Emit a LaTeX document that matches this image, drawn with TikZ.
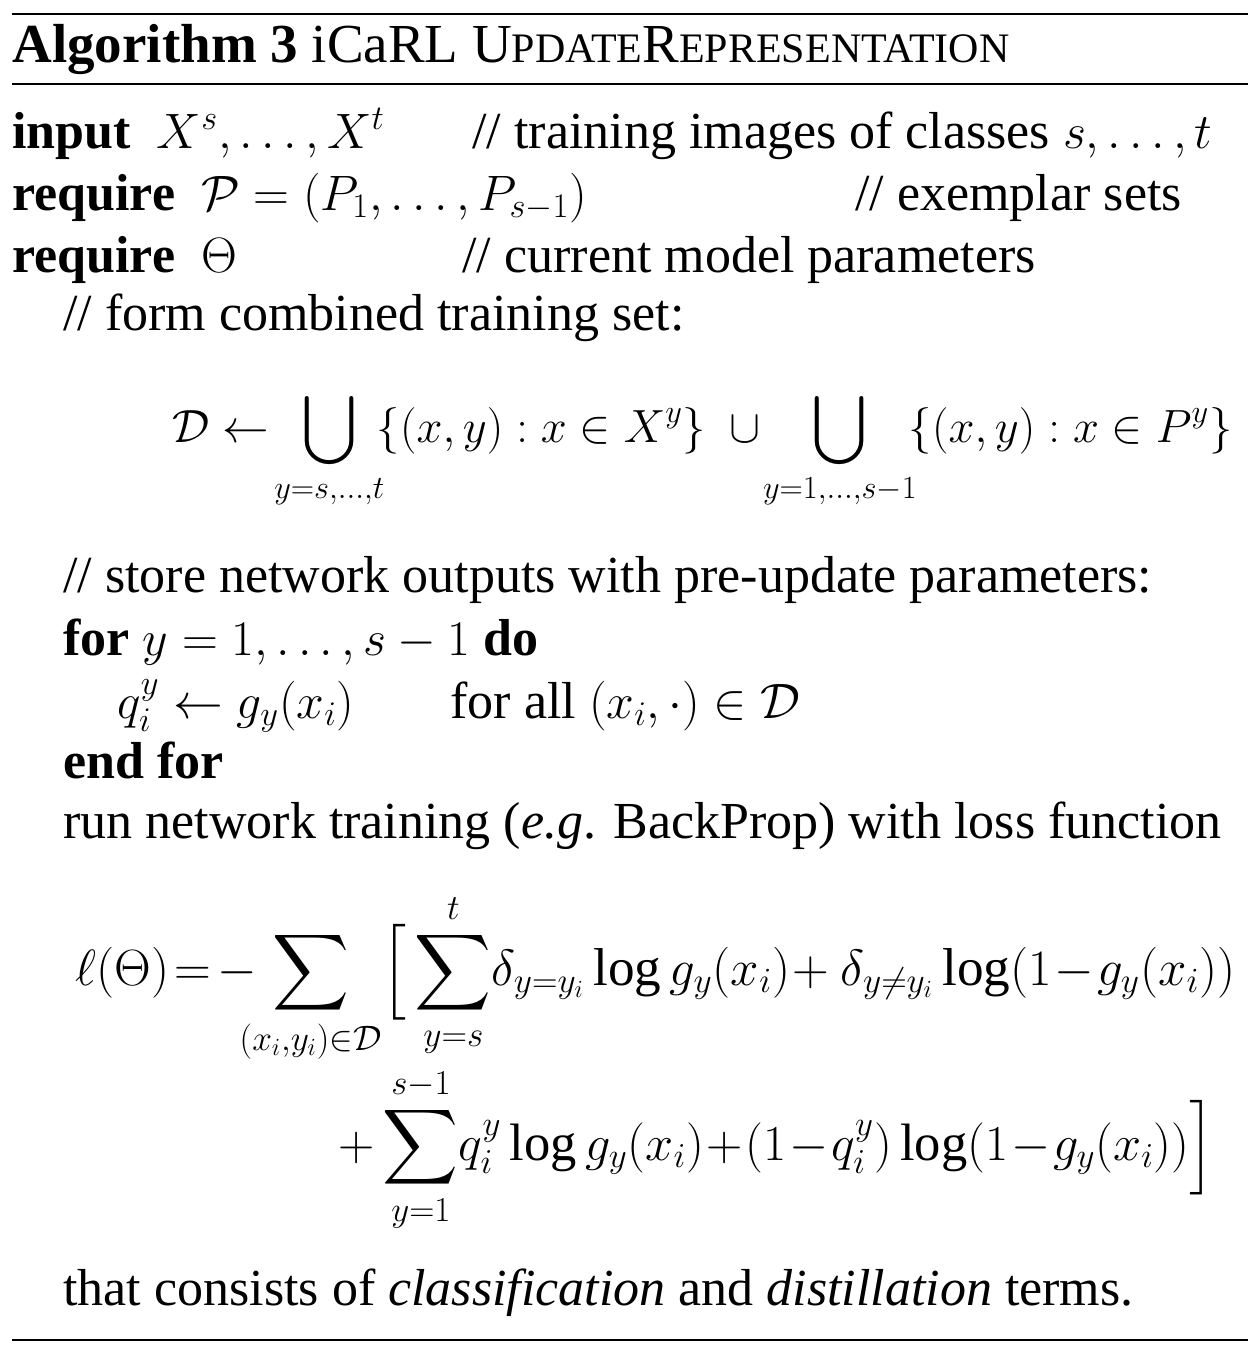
\documentclass[tikz,border=0pt]{standalone}
\usepackage{amsmath,amssymb,graphicx}
\usepackage{fontspec}
\setmainfont{Liberation Serif}
\newcommand{\smc}[1]{{\fontsize{21}{23}\selectfont #1}}
\begin{document}
\begin{tikzpicture}[x=0.5pt,y=-0.5pt,
  every node/.style={inner sep=0pt,anchor=base west,font=\fontsize{26}{31}\selectfont}]
\useasboundingbox (0,0) rectangle (1258,1355);
\draw[line width=1.2pt] (12,14) -- (1248,14);
\draw[line width=0.6pt] (12,84) -- (1248,84);
\draw[line width=0.6pt] (12,1340) -- (1248,1340);
\node[font=\fontsize{27.5}{31}\selectfont] (title) at (12,62) {\textbf{Algorithm 3} iCaRL U\smc{PDATE}R\smc{EPRESENTATION}};
\node (in) at (12,148) {\textbf{input}\enspace $X^s,\dots,X^t$};
\node (inc) at (472,148) {// training images of classes $s,\dots,t$};
\node (r1) at (12,210) {\textbf{require}\enspace $\mathcal{P}=(P_1,\dots,P_{s-1})$};
\node (r1c) at (855,210) {// exemplar sets};
\node (r2) at (12,272) {\textbf{require}\enspace $\Theta$};
\node (r2c) at (462,272) {// current model parameters};
\node (c1) at (63,330) {// form combined training set:};
\node (eqD) at (172,442) {\resizebox{530pt}{!}{$\displaystyle \mathcal{D}\leftarrow\!\bigcup_{y=s,\dots,t}\!\{(x,y):x\in X^y\}\;\cup\!\bigcup_{y=1,\dots,s-1}\!\{(x,y):x\in P^y\}$}};
\node (c2) at (63,592) {// store network outputs with pre-update parameters:};
\node (for) at (63,655) {\textbf{for} $y=1,\dots,s-1$ \textbf{do}};
\node (q) at (117,718) {$q_i^y\leftarrow g_y(x_i)$};
\node (qa) at (450,718) {for all $(x_i,\cdot)\in\mathcal{D}$};
\node (ef) at (63,778) {\textbf{end for}};
\node (run) at (63,838) {run network training (\textit{e.g}. BackProp) with loss function};
\node (l1) at (75,985) {\resizebox{580pt}{!}{$\displaystyle \ell(\Theta)\!=\!-\!\!\!\sum_{(x_i,y_i)\in\mathcal{D}}\!\Big[\sum_{y=s}^{t}\!\delta_{y=y_i}\log g_y(x_i)\!+\delta_{y\neq y_i}\log(1\!-\!g_y(x_i))$}};
\node (l2) at (338,1160) {\resizebox{438pt}{!}{$\displaystyle +\sum_{y=1}^{s-1}\!q_i^y\log g_y(x_i)\!+\!(1\!-\!q_i^y)\log(1\!-\!g_y(x_i))\Big]$}};
\node (end) at (63,1305) {that consists of \textit{classification} and \textit{distillation} terms.};
\end{tikzpicture}
\end{document}
